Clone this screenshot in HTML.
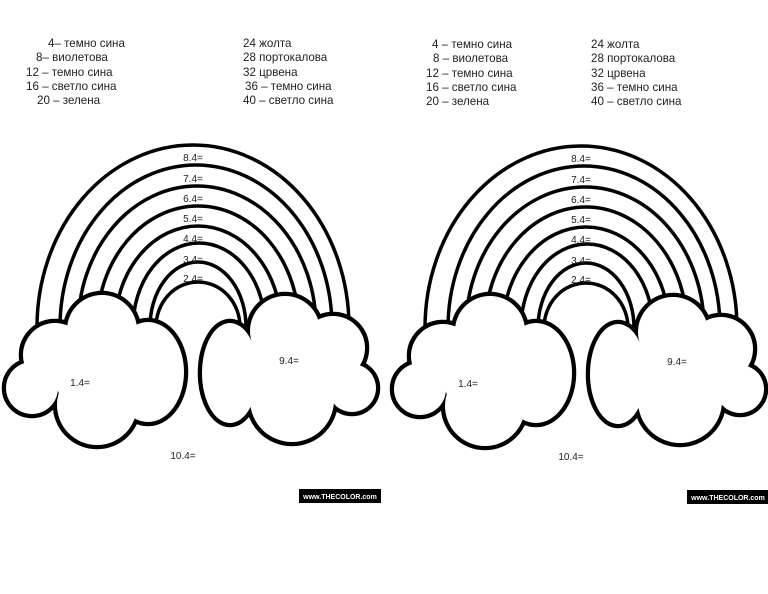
<!DOCTYPE html>
<html><head><meta charset="utf-8"><style>
html,body{margin:0;padding:0;background:#fff;}
svg{display:block;}
text{font-family:"Liberation Sans",sans-serif;fill:#222;}
</style></head><body>
<svg width="768" height="594" viewBox="0 0 768 594" xmlns="http://www.w3.org/2000/svg">
<defs>
<g id="rb">
  <g fill="#fff" stroke="#000" stroke-width="3.5">
    <path d="M37,327 A156,182 0 0 1 349,327 Z"/>
    <path d="M60,327 A136,162 0 0 1 332,327 Z"/>
    <path d="M78,327 A119,141 0 0 1 316,327 Z"/>
    <path d="M97,327 A101,121 0 0 1 299,327 Z"/>
    <path d="M115,327 A83,101 0 0 1 281,327 Z"/>
    <path d="M133,327 A66,84 0 0 1 265,327 Z"/>
    <path d="M150,327 A48,65 0 0 1 246,327 Z"/>
    <path d="M156,327 A42,45 0 0 1 240,327 Z"/>
  </g>
  <line x1="156" y1="327" x2="240" y2="327" stroke="#fff" stroke-width="4"/>
  <g stroke="#000" stroke-width="8.5" fill="#000">
    <circle cx="102" cy="330" r="35"/><ellipse cx="148" cy="372" rx="36" ry="50"/>
    <circle cx="55" cy="355" r="32"/><circle cx="32" cy="388" r="26"/>
    <circle cx="97" cy="405" r="40"/><circle cx="100" cy="375" r="45"/>
    <ellipse cx="230" cy="373" rx="28" ry="50"/><circle cx="285" cy="331" r="35"/>
    <circle cx="333" cy="348" r="32"/><circle cx="352" cy="388" r="24"/>
    <circle cx="292" cy="400" r="42"/><circle cx="285" cy="375" r="45"/>
  </g>
  <g fill="#fff">
    <circle cx="102" cy="330" r="35"/><ellipse cx="148" cy="372" rx="36" ry="50"/>
    <circle cx="55" cy="355" r="32"/><circle cx="32" cy="388" r="26"/>
    <circle cx="97" cy="405" r="40"/><circle cx="100" cy="375" r="45"/>
    <ellipse cx="230" cy="373" rx="28" ry="50"/><circle cx="285" cy="331" r="35"/>
    <circle cx="333" cy="348" r="32"/><circle cx="352" cy="388" r="24"/>
    <circle cx="292" cy="400" r="42"/><circle cx="285" cy="375" r="45"/>
  </g>
  <g font-size="10" text-anchor="middle">
    <text x="193" y="161">8.4=</text>
    <text x="193" y="182">7.4=</text>
    <text x="193" y="202">6.4=</text>
    <text x="193" y="222">5.4=</text>
    <text x="193" y="242">4.4=</text>
    <text x="193" y="263">3.4=</text>
    <text x="193" y="282">2.4=</text>
    <text x="80" y="386">1.4=</text>
    <text x="289" y="364">9.4=</text>
    <text x="183" y="459">10.4=</text>
  </g>
  <rect x="299" y="489" width="82" height="14" fill="#000"/>
  <text x="340" y="499" font-size="7" font-weight="bold" text-anchor="middle" style="fill:#fff">www.THECOLOR.com</text>
</g>
</defs>
<use href="#rb"/>
<use href="#rb" transform="translate(388,1)"/>
<g font-size="11.6">
  <text x="48" y="47">4– темно сина</text>
  <text x="36" y="61">8– виолетова</text>
  <text x="26" y="76">12 – темно сина</text>
  <text x="26" y="90">16 – светло сина</text>
  <text x="37" y="104">20 – зелена</text>
  <text x="243" y="47">24  жолта</text>
  <text x="243" y="61">28  портокалова</text>
  <text x="243" y="76">32  црвена</text>
  <text x="245" y="90">36 – темно сина</text>
  <text x="243" y="104">40 – светло сина</text>
  <text x="432" y="48">4 – темно сина</text>
  <text x="433" y="62">8 – виолетова</text>
  <text x="426" y="77">12 – темно сина</text>
  <text x="426" y="91">16 – светло сина</text>
  <text x="426" y="105">20 – зелена</text>
  <text x="591" y="48">24  жолта</text>
  <text x="591" y="62">28  портокалова</text>
  <text x="591" y="77">32  црвена</text>
  <text x="591" y="91">36 – темно сина</text>
  <text x="591" y="105">40 – светло сина</text>
</g>
</svg>
</body></html>
